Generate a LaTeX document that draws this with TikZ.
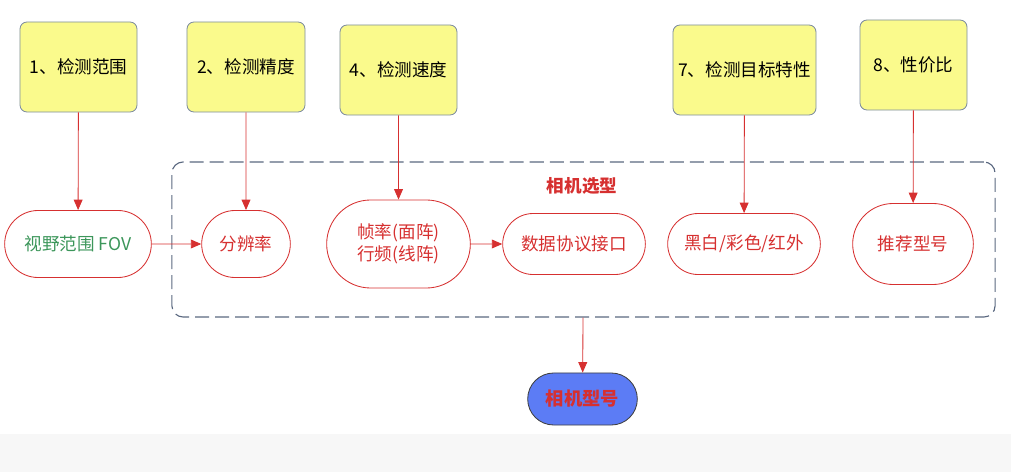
\documentclass[tikz,border=0pt]{standalone}
\usepackage{fontspec}
\setmainfont{Noto Sans CJK SC}
\usepackage{tikz}
\usetikzlibrary{shapes.misc,arrows.meta,positioning}
\definecolor{selYellow}{RGB}{250,250,140}
\definecolor{selFrame}{RGB}{125,140,160}
\definecolor{selRed}{RGB}{214,48,48}
\definecolor{selGreen}{RGB}{60,150,90}
\definecolor{selBlue}{RGB}{92,124,245}
\definecolor{selDash}{RGB}{90,104,128}
\tikzset{
  critbox/.style={
    rectangle, rounded corners=5pt,
    draw=selFrame, fill=selYellow, line width=0.6pt,
    minimum width=#1, minimum height=2.25cm,
    align=center, font=\fontsize{12.5}{15}\selectfont,
    text=black
  },
  pill/.style={
    rounded rectangle, draw=selRed, line width=0.6pt,
    minimum width=#1, minimum height=1.6cm,
    align=center, font=\fontsize{12.5}{16}\selectfont,
    text=selRed
  },
  myarr/.style={-{Triangle[length=0.26cm,width=0.22cm]}, line width=0.6pt, selRed},
}

\begin{document}
\begin{tikzpicture}[x=0.025cm, y=-0.025cm]
  \useasboundingbox (0,0) rectangle (1011,472);
  \fill[gray!6] (0,434) rectangle (1011,472);

  % selection frame
  \node[draw=selDash, line width=0.8pt, dash pattern=on 0.35cm off 0.15cm,
        rounded corners=8pt, minimum width=20.575cm, minimum height=3.875cm]
        (sel) at (583.5,239.5) {};
  \node[font=\fontsize{12.5}{15}\selectfont\bfseries, text=selRed] (seltitle) at (582,186) {相机选型};

  % criteria
  \node[critbox=2.925cm] (range) at (78.5,67)  {1、检测范围};
  \node[critbox=2.95cm]  (prec)  at (246,67)   {2、检测精度};
  \node[critbox=2.925cm] (speed) at (398.5,70) {4、检测速度};
  \node[critbox=3.575cm] (feat)  at (744.5,70) {7、检测目标特性};
  \node[critbox=2.675cm] (cost)  at (913.5,65) {8、性价比};

  % parameters
  \node[pill=3.9cm, text=selGreen, minimum height=1.675cm] (fov)   at (78,244)  {视野范围 FOV};
  \node[pill=2.45cm, minimum height=1.675cm]               (res)   at (246,244) {分辨率};
  \node[pill=3.825cm, minimum height=2.2cm]                (rate)  at (398.5,244) {帧率(面阵)\\行频(线阵)};
  \node[pill=3.8cm, minimum height=1.525cm]                (iface) at (574,244) {数据协议接口};
  \node[pill=4.05cm, minimum height=1.525cm]               (color) at (744,244) {黑白/彩色/红外};
  \node[pill=3.25cm, minimum height=2.025cm]               (rec)   at (913,244) {推荐型号};

  \node[rounded rectangle, draw=black!75, fill=selBlue, line width=0.6pt,
        minimum width=2.975cm, minimum height=1.3cm,
        font=\fontsize{13}{15}\selectfont\bfseries, text=selRed] (model) at (582.5,399) {相机型号};

  \draw[myarr] (range) -- (fov);
  \draw[myarr] (prec)  -- (res);
  \draw[myarr] (speed) -- (rate);
  \draw[myarr] (feat)  -- (color);
  \draw[myarr] (cost)  -- (rec);
  \draw[myarr] (fov)   -- (res);
  \draw[myarr] (rate)  -- (iface);
  \draw[myarr] (sel)   -- (model);
\end{tikzpicture}
\end{document}
